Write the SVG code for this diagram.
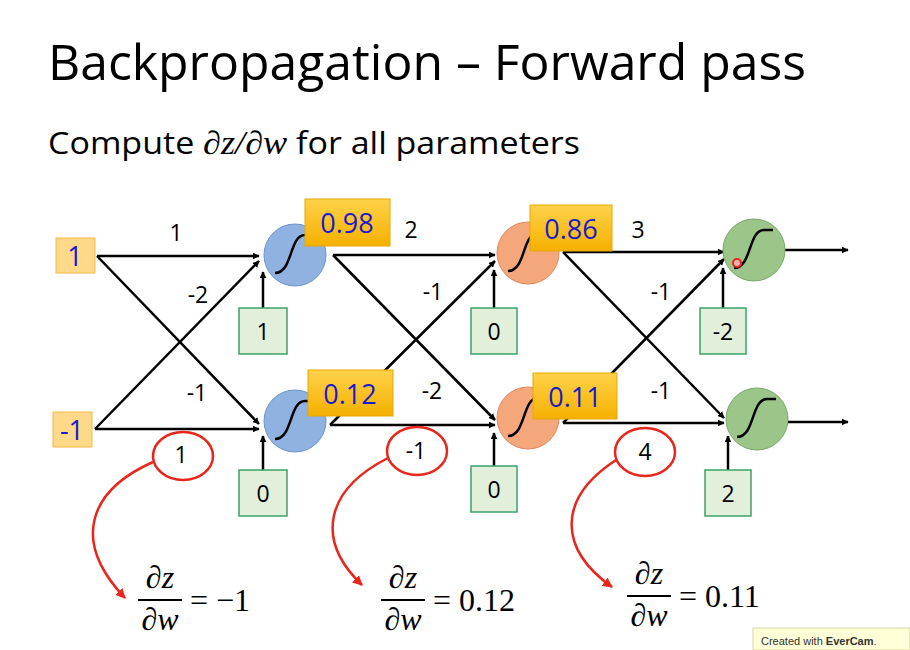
<svg xmlns="http://www.w3.org/2000/svg" width="910" height="650" viewBox="0 0 910 650">
<defs>
<marker id="ah" viewBox="0 0 10 10" refX="9" refY="5" markerWidth="7" markerHeight="7" orient="auto" markerUnits="userSpaceOnUse"><path d="M0,0 L10,5 L0,10 z" fill="#000"/></marker>
<marker id="rh" viewBox="0 0 10 10" refX="9" refY="5" markerWidth="10" markerHeight="10" orient="auto" markerUnits="userSpaceOnUse"><path d="M0,0 L10,5 L0,10 z" fill="#e8261c"/></marker>
<linearGradient id="og" x1="0" y1="0" x2="0" y2="1"><stop offset="0" stop-color="#ffd24a"/><stop offset="1" stop-color="#f5b000"/></linearGradient>
</defs>
<style>
.t{font-family:"Open Sans","Liberation Sans",sans-serif;fill:#000}
.e{stroke:#000;stroke-width:2.5;fill:none;marker-end:url(#ah)}
.lb{font-family:"Open Sans","Liberation Sans",sans-serif;font-size:23px;text-anchor:middle}
.bias{fill:#e2efda;stroke:#3aa36b;stroke-width:1.5}
.inp{fill:#ffd98a;stroke:#f0b840;stroke-width:1}
.val{fill:url(#og);stroke:#e8a800;stroke-width:1}
.vt{font-family:"Open Sans","Liberation Sans",sans-serif;font-size:27px;fill:#1a1ad0;text-anchor:middle}
.sig{stroke:#000;stroke-width:2.5;fill:none}
.red{stroke:#e8261c;stroke-width:2.5;fill:none}
.m{font-family:"Liberation Serif",serif;font-size:32px;font-style:italic}
.mn{font-family:"Liberation Serif",serif;font-size:32px}
</style>
<rect width="910" height="650" fill="#fff"/>
<text class="t" x="48" y="80" font-size="50" textLength="758" lengthAdjust="spacingAndGlyphs">Backpropagation – Forward pass</text>
<text class="t" x="48" y="154" font-size="31" textLength="532" lengthAdjust="spacingAndGlyphs">Compute <tspan font-family="Liberation Serif" font-style="italic" font-size="33">∂z/∂w</tspan> for all parameters</text>

<g id="connectors">
<line class="e" x1="97" y1="256" x2="259" y2="256"/>
<line class="e" x1="97" y1="256" x2="259" y2="424"/>
<line class="e" x1="95" y1="429" x2="259" y2="429"/>
<line class="e" x1="95" y1="429" x2="259" y2="261"/>
<line class="e" x1="263" y1="308" x2="263" y2="272"/>
<line class="e" x1="263" y1="470" x2="263" y2="436"/>
<line class="e" x1="333" y1="255" x2="495" y2="255"/>
<line class="e" x1="333" y1="255" x2="495" y2="420"/>
<line class="e" x1="330" y1="425" x2="495" y2="425"/>
<line class="e" x1="330" y1="425" x2="495" y2="261"/>
<line class="e" x1="494" y1="308" x2="494" y2="270"/>
<line class="e" x1="494" y1="466" x2="494" y2="433"/>
<line class="e" x1="563" y1="252" x2="724" y2="252"/>
<line class="e" x1="563" y1="252" x2="724" y2="418"/>
<line class="e" x1="563" y1="423" x2="724" y2="423"/>
<line class="e" x1="563" y1="423" x2="724" y2="259"/>
<line class="e" x1="723" y1="308" x2="723" y2="268"/>
<line class="e" x1="728" y1="470" x2="728" y2="436"/>
<line class="e" x1="785" y1="250" x2="848" y2="250"/>
<line class="e" x1="788" y1="422" x2="848" y2="422"/>
<text class="lb" x="176" y="241">1</text>
<text class="lb" x="198" y="303">-2</text>
<text class="lb" x="197" y="401">-1</text>
<text class="lb" x="181" y="463">1</text>
<text class="lb" x="411" y="238">2</text>
<text class="lb" x="433" y="300">-1</text>
<text class="lb" x="432" y="399">-2</text>
<text class="lb" x="416" y="459">-1</text>
<text class="lb" x="638" y="238">3</text>
<text class="lb" x="661" y="300">-1</text>
<text class="lb" x="661" y="399">-1</text>
<text class="lb" x="645" y="460">4</text>
<ellipse class="red" cx="183" cy="456" rx="30" ry="24"/>
<ellipse class="red" cx="417" cy="451" rx="30" ry="24"/>
<ellipse class="red" cx="645" cy="452" rx="30" ry="24"/>
<path class="red" d="M153,462 C90,490 70,540 125,598" marker-end="url(#rh)"/>
<path class="red" d="M388,458 C325,490 315,540 362,585" marker-end="url(#rh)"/>
<path class="red" d="M616,460 C555,500 560,550 612,587" marker-end="url(#rh)"/>
</g>

<g id="in1"><rect class="inp" x="56" y="238" width="39" height="35"/><text class="vt" x="75" y="266">1</text></g>
<g id="in2"><rect class="inp" x="53" y="412" width="39" height="35"/><text class="vt" x="72" y="440">-1</text></g>

<g id="h1"><circle cx="295" cy="255" r="31" fill="#8fb2e0" stroke="#6f93c8"/><path class="sig" d="M275,273 C293,273 289,235 305,235 L314,235"/></g>
<g id="h2"><circle cx="295" cy="421" r="31" fill="#8fb2e0" stroke="#6f93c8"/><path class="sig" d="M275,439 C293,439 289,401 305,401 L314,401"/></g>
<g id="g1"><circle cx="528" cy="253" r="31" fill="#f5a77c" stroke="#e08860"/><path class="sig" d="M508,271 C526,271 522,233 538,233 L547,233"/></g>
<g id="g2"><circle cx="528" cy="418" r="31" fill="#f5a77c" stroke="#e08860"/><path class="sig" d="M508,436 C526,436 522,398 538,398 L547,398"/></g>
<g id="o1"><circle cx="754" cy="250" r="31" fill="#9cc58a" stroke="#7aa66a"/><path class="sig" d="M734,268 C752,268 748,230 764,230 L773,230"/><circle cx="737" cy="263" r="4" fill="#ffb0b0" stroke="#e8261c" stroke-width="2"/></g>
<g id="o2"><circle cx="757" cy="419" r="31" fill="#9cc58a" stroke="#7aa66a"/><path class="sig" d="M737,437 C755,437 751,399 767,399 L776,399"/></g>

<g id="v1"><rect class="val" x="305" y="199" width="85" height="47"/><text class="vt" x="347" y="233">0.98</text></g>
<g id="v2"><rect class="val" x="308" y="370" width="85" height="46"/><text class="vt" x="350" y="404">0.12</text></g>
<g id="v3"><rect class="val" x="530" y="205" width="82" height="46"/><text class="vt" x="571" y="239">0.86</text></g>
<g id="v4"><rect class="val" x="533" y="373" width="84" height="46"/><text class="vt" x="575" y="407">0.11</text></g>

<g id="b1"><rect class="bias" x="239" y="308" width="48" height="46"/><text class="lb" x="263" y="340">1</text></g>
<g id="b2"><rect class="bias" x="239" y="470" width="48" height="46"/><text class="lb" x="263" y="502">0</text></g>
<g id="b3"><rect class="bias" x="471" y="308" width="46" height="46"/><text class="lb" x="494" y="340">0</text></g>
<g id="b4"><rect class="bias" x="471" y="466" width="46" height="46"/><text class="lb" x="494" y="498">0</text></g>
<g id="b5"><rect class="bias" x="700" y="308" width="46" height="46"/><text class="lb" x="723" y="340">-2</text></g>
<g id="b6"><rect class="bias" x="705" y="470" width="46" height="46"/><text class="lb" x="728" y="502">2</text></g>

<g id="f1"><text class="m" x="160" y="588" text-anchor="middle">∂z</text><line x1="138" y1="600" x2="182" y2="600" stroke="#000" stroke-width="2"/><text class="m" x="160" y="630" text-anchor="middle">∂w</text><text class="mn" x="190" y="611">= −1</text></g>
<g id="f2"><text class="m" x="403" y="588" text-anchor="middle">∂z</text><line x1="381" y1="600" x2="425" y2="600" stroke="#000" stroke-width="2"/><text class="m" x="403" y="630" text-anchor="middle">∂w</text><text class="mn" x="433" y="611">= 0.12</text></g>
<g id="f3"><text class="m" x="649" y="584" text-anchor="middle">∂z</text><line x1="627" y1="596" x2="671" y2="596" stroke="#000" stroke-width="2"/><text class="m" x="649" y="626" text-anchor="middle">∂w</text><text class="mn" x="679" y="607">= 0.11</text></g>

<g id="wm"><rect x="753" y="628" width="157" height="22" fill="#ffffd8" stroke="#d8d8a0"/><text x="761" y="645" font-family="Liberation Sans,sans-serif" font-size="11" fill="#333">Created with <tspan font-weight="bold">EverCam</tspan>.</text></g>
</svg>
